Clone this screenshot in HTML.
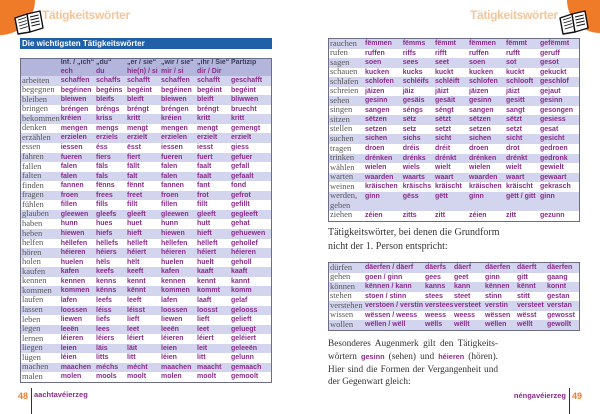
<!DOCTYPE html>
<html><head><meta charset="utf-8">
<style>
*{margin:0;padding:0}
html,body{width:600px;height:414px;overflow:hidden;background:#fff;position:relative}
.abs{position:absolute}
.title{position:absolute;font:bold 12px/14px "Liberation Sans",sans-serif;color:#f4c59a;letter-spacing:-0.3px;white-space:nowrap}
.bar{position:absolute;left:20px;top:38px;width:252px;height:11px;background:#2060a8;color:#fff;font:bold 8px/11px "Liberation Sans",sans-serif;padding-left:2px;box-sizing:border-box;white-space:nowrap}
.tb{position:absolute;border:1px solid #6c6c86;box-sizing:border-box;background:#fff;overflow:hidden}
.r{position:relative;height:9.57px}
.s{background:#d3d5ee}
.r i,.r b{position:absolute;top:0;white-space:nowrap}
.r i{font:8.5px/9.57px "Liberation Serif",serif;color:#555;left:1px;font-style:normal;top:-0.5px}
.r b{font:bold 7px/9.57px "Liberation Sans",sans-serif;color:#8b2b8b}
.R1 .r{height:9.56px}
.R1 .r i,.R1 .r b{line-height:9.56px}
.R2 .r{height:9.5px}
.R2 .r i,.R2 .r b{line-height:9.5px}
.L b:nth-of-type(1){left:39.7px}.L b:nth-of-type(2){left:75px}.L b:nth-of-type(3){left:106px}.L b:nth-of-type(4){left:140px}.L b:nth-of-type(5){left:176px}.L b:nth-of-type(6){left:210px}
.R1 b:nth-of-type(1){left:36px}.R1 b:nth-of-type(2){left:73.7px}.R1 b:nth-of-type(3){left:106px}.R1 b:nth-of-type(4){left:140px}.R1 b:nth-of-type(5){left:177px}.R1 b:nth-of-type(6){left:211px}
.R2 b:nth-of-type(1){left:36px}.R2 b:nth-of-type(2){left:96px}.R2 b:nth-of-type(3){left:125px}.R2 b:nth-of-type(4){left:156px}.R2 b:nth-of-type(5){left:188px}.R2 b:nth-of-type(6){left:218px}
.hd{position:relative;height:17px;background:#b3b5dc}
.hd .ln{position:absolute;left:0;right:0;height:9px}
.hd b{position:absolute;top:0;font:bold 7px/9px "Liberation Sans",sans-serif;white-space:nowrap}
.hd .l1{top:-1px}.hd .l1 b{color:#3b3d5c}
.hd .l2{top:7.5px}.hd .l2 b{color:#8b2b8b}
.para{position:absolute;font:10px "Liberation Serif",serif;color:#333;white-space:nowrap}
.p2{position:absolute;font:9.3px "Liberation Serif",serif;color:#333;width:170px;line-height:12.8px}
.jl{text-align:justify;text-align-last:justify;height:12.8px}
.pp{font:bold 7.3px "Liberation Sans",sans-serif;color:#8b2b8b}
.foot{position:absolute;font:bold 7.5px/10px "Liberation Sans",sans-serif;color:#8b2b8b;white-space:nowrap}
.pn{position:absolute;font:bold 9px/10px "Liberation Sans",sans-serif;color:#f07d2a}
</style></head><body>

<div class="abs" style="left:-35px;top:-35px;width:70px;height:70px;border-radius:50%;background:#ef7b28"></div>
<div class="abs" style="left:567px;top:-33px;width:66px;height:66px;border-radius:50%;background:#ef7b28"></div>

<svg class="abs" style="left:13px;top:9px" width="32" height="26" viewBox="0 0 32 26">
<g fill="#fff" stroke="#111" stroke-width="1.4" stroke-linejoin="round">
<path d="M2 9 L14 5 L17 23 L5 25 Z"/>
<path d="M14 5 L27 2 L30 19 L17 23 Z"/>
</g>
<g stroke="#111" stroke-width="0.9">
<line x1="5" y1="11" x2="13" y2="8.5"/><line x1="5.6" y1="14" x2="13.6" y2="11.5"/><line x1="6.2" y1="17" x2="14.2" y2="14.5"/><line x1="6.8" y1="20" x2="14.8" y2="17.5"/>
<line x1="17" y1="8" x2="25.5" y2="6"/><line x1="17.5" y1="11" x2="26" y2="9"/><line x1="18" y1="14" x2="26.5" y2="12"/><line x1="18.5" y1="17" x2="27" y2="15"/>
</g>
</svg>
<svg class="abs" style="left:558px;top:9px" width="32" height="26" viewBox="0 0 32 26">
<g fill="#fff" stroke="#111" stroke-width="1.4" stroke-linejoin="round">
<path d="M2 9 L14 5 L17 23 L5 25 Z"/>
<path d="M14 5 L27 2 L30 19 L17 23 Z"/>
</g>
<g stroke="#111" stroke-width="0.9">
<line x1="5" y1="11" x2="13" y2="8.5"/><line x1="5.6" y1="14" x2="13.6" y2="11.5"/><line x1="6.2" y1="17" x2="14.2" y2="14.5"/><line x1="6.8" y1="20" x2="14.8" y2="17.5"/>
<line x1="17" y1="8" x2="25.5" y2="6"/><line x1="17.5" y1="11" x2="26" y2="9"/><line x1="18" y1="14" x2="26.5" y2="12"/><line x1="18.5" y1="17" x2="27" y2="15"/>
</g>
</svg>

<div class="title" style="left:42px;top:8px">Tätigkeitswörter</div>
<div class="title" style="left:470px;top:8px">Tätigkeitswörter</div>

<div class="bar">Die wichtigsten Tätigkeitswörter</div>

<div class="tb L" style="left:20px;top:58px;width:252px;height:325px">
<div class="hd">
<div class="ln l1"><b style="left:39.7px">Inf. / „ich“</b><b style="left:75px">„du“</b><b style="left:106px">„er / sie“</b><b style="left:140px">„wir / sie“</b><b style="left:176px">„ihr / Sie“</b><b style="left:210px">Partizip</b></div>
<div class="ln l2"><b style="left:39.7px">ech</b><b style="left:75px">du</b><b style="left:106px">hie(n) / si</b><b style="left:140px">mir / si</b><b style="left:176px">dir / Dir</b></div>
</div>
<div class="r s"><i>arbeiten</i><b>schaffen</b><b>schaffs</b><b>schafft</b><b>schaffen</b><b>schafft</b><b>geschafft</b></div>
<div class="r"><i>begegnen</i><b>begéinen</b><b>begéins</b><b>begéint</b><b>begéinen</b><b>begéint</b><b>begéint</b></div>
<div class="r s"><i>bleiben</i><b>bleiwen</b><b>bleifs</b><b>bleift</b><b>bleiwen</b><b>bleift</b><b>bliwwen</b></div>
<div class="r"><i>bringen</i><b>bréngen</b><b>bréngs</b><b>bréngt</b><b>bréngen</b><b>bréngt</b><b>bruecht</b></div>
<div class="r s"><i>bekommen</i><b>kréien</b><b>kriss</b><b>kritt</b><b>kréien</b><b>kritt</b><b>kritt</b></div>
<div class="r"><i>denken</i><b>mengen</b><b>mengs</b><b>mengt</b><b>mengen</b><b>mengt</b><b>gemengt</b></div>
<div class="r s"><i>erzählen</i><b>erzielen</b><b>erziels</b><b>erzielt</b><b>erzielen</b><b>erzielt</b><b>erzielt</b></div>
<div class="r"><i>essen</i><b>iessen</b><b>éss</b><b>ësst</b><b>iessen</b><b>iesst</b><b>giess</b></div>
<div class="r s"><i>fahren</i><b>fueren</b><b>fiers</b><b>fiert</b><b>fueren</b><b>fuert</b><b>gefuer</b></div>
<div class="r"><i>fallen</i><b>falen</b><b>fäls</b><b>fällt</b><b>falen</b><b>faalt</b><b>gefall</b></div>
<div class="r s"><i>falten</i><b>falen</b><b>fals</b><b>falt</b><b>falen</b><b>faalt</b><b>gefaalt</b></div>
<div class="r"><i>finden</i><b>fannen</b><b>fënns</b><b>fënnt</b><b>fannen</b><b>fant</b><b>fond</b></div>
<div class="r s"><i>fragen</i><b>froen</b><b>frees</b><b>freet</b><b>froen</b><b>frot</b><b>gefrot</b></div>
<div class="r"><i>fühlen</i><b>fillen</b><b>fills</b><b>fillt</b><b>fillen</b><b>fillt</b><b>gefillt</b></div>
<div class="r s"><i>glauben</i><b>gleewen</b><b>gleefs</b><b>gleeft</b><b>gleewen</b><b>gleeft</b><b>gegleeft</b></div>
<div class="r"><i>haben</i><b>hunn</b><b>hues</b><b>huet</b><b>hunn</b><b>hutt</b><b>gehat</b></div>
<div class="r s"><i>heben</i><b>hiewen</b><b>hiefs</b><b>hieft</b><b>hiewen</b><b>hieft</b><b>gehuewen</b></div>
<div class="r"><i>helfen</i><b>hëllefen</b><b>hëllefs</b><b>hëlleft</b><b>hëllefen</b><b>hëlleft</b><b>gehollef</b></div>
<div class="r s"><i>hören</i><b>héieren</b><b>héiers</b><b>héiert</b><b>héieren</b><b>héiert</b><b>héieren</b></div>
<div class="r"><i>holen</i><b>huelen</b><b>hëls</b><b>hëlt</b><b>huelen</b><b>huelt</b><b>geholl</b></div>
<div class="r s"><i>kaufen</i><b>kafen</b><b>keefs</b><b>keeft</b><b>kafen</b><b>kaaft</b><b>kaaft</b></div>
<div class="r"><i>kennen</i><b>kennen</b><b>kenns</b><b>kennt</b><b>kennen</b><b>kennt</b><b>kannt</b></div>
<div class="r s"><i>kommen</i><b>kommen</b><b>kënns</b><b>kënnt</b><b>kommen</b><b>kommt</b><b>komm</b></div>
<div class="r"><i>laufen</i><b>lafen</b><b>leefs</b><b>leeft</b><b>lafen</b><b>laaft</b><b>gelaf</b></div>
<div class="r s"><i>lassen</i><b>loossen</b><b>léiss</b><b>léisst</b><b>loossen</b><b>loosst</b><b>gelooss</b></div>
<div class="r"><i>leben</i><b>liewen</b><b>liefs</b><b>lieft</b><b>liewen</b><b>lieft</b><b>gelieft</b></div>
<div class="r s"><i>legen</i><b>leeën</b><b>lees</b><b>leet</b><b>leeën</b><b>leet</b><b>geluegt</b></div>
<div class="r"><i>lernen</i><b>léieren</b><b>léiers</b><b>léiert</b><b>léieren</b><b>léiert</b><b>geléiert</b></div>
<div class="r s"><i>liegen</i><b>leien</b><b>läis</b><b>läit</b><b>leien</b><b>leit</b><b>geleeën</b></div>
<div class="r"><i>lügen</i><b>léien</b><b>litts</b><b>litt</b><b>léien</b><b>litt</b><b>gelunn</b></div>
<div class="r s"><i>machen</i><b>maachen</b><b>méchs</b><b>mécht</b><b>maachen</b><b>maacht</b><b>gemaach</b></div>
<div class="r"><i>malen</i><b>molen</b><b>mools</b><b>moolt</b><b>molen</b><b>moolt</b><b>gemoolt</b></div>
</div>

<div class="tb R1" style="left:328px;top:38px;width:252px;height:183.6px">
<div class="r s"><i>rauchen</i><b>fëmmen</b><b>fëmms</b><b>fëmmt</b><b>fëmmen</b><b>fëmmt</b><b>gefëmmt</b></div>
<div class="r"><i>rufen</i><b>ruffen</b><b>riffs</b><b>rifft</b><b>ruffen</b><b>rufft</b><b>geruff</b></div>
<div class="r s"><i>sagen</i><b>soen</b><b>sees</b><b>seet</b><b>soen</b><b>sot</b><b>gesot</b></div>
<div class="r"><i>schauen</i><b>kucken</b><b>kucks</b><b>kuckt</b><b>kucken</b><b>kuckt</b><b>gekuckt</b></div>
<div class="r s"><i>schlafen</i><b>schlofen</b><b>schléifs</b><b>schléift</b><b>schlofen</b><b>schlooft</b><b>geschlof</b></div>
<div class="r"><i>schreien</i><b>jäizen</b><b>jäiz</b><b>jäizt</b><b>jäizen</b><b>jäizt</b><b>gejaut</b></div>
<div class="r s"><i>sehen</i><b>gesinn</b><b>gesäis</b><b>gesäit</b><b>gesinn</b><b>gesitt</b><b>gesinn</b></div>
<div class="r"><i>singen</i><b>sangen</b><b>séngs</b><b>séngt</b><b>sangen</b><b>sangt</b><b>gesongen</b></div>
<div class="r s"><i>sitzen</i><b>sëtzen</b><b>sëtz</b><b>sëtzt</b><b>sëtzen</b><b>sëtzt</b><b>gesiess</b></div>
<div class="r"><i>stellen</i><b>setzen</b><b>setz</b><b>setzt</b><b>setzen</b><b>setzt</b><b>gesat</b></div>
<div class="r s"><i>suchen</i><b>sichen</b><b>sichs</b><b>sicht</b><b>sichen</b><b>sicht</b><b>gesicht</b></div>
<div class="r"><i>tragen</i><b>droen</b><b>dréis</b><b>dréit</b><b>droen</b><b>drot</b><b>gedroen</b></div>
<div class="r s"><i>trinken</i><b>drénken</b><b>drénks</b><b>drénkt</b><b>drénken</b><b>drénkt</b><b>gedronk</b></div>
<div class="r"><i>wählen</i><b>wielen</b><b>wiels</b><b>wielt</b><b>wielen</b><b>wielt</b><b>gewielt</b></div>
<div class="r s"><i>warten</i><b>waarden</b><b>waarts</b><b>waart</b><b>waarden</b><b>waart</b><b>gewaart</b></div>
<div class="r"><i>weinen</i><b>kräischen</b><b>kräischs</b><b>kräischt</b><b>kräischen</b><b>kräischt</b><b>gekrasch</b></div>
<div class="r s" style="height:19.12px"><i>werden,<br>geben</i><b>ginn</b><b>gëss</b><b>gëtt</b><b>ginn</b><b>gëtt / gitt</b><b>ginn</b></div>
<div class="r"><i>ziehen</i><b>zéien</b><b>zitts</b><b>zitt</b><b>zéien</b><b>zitt</b><b>gezunn</b></div>
</div>

<div class="para" style="left:328px;top:226px;line-height:14.4px">Tätigkeitswörter, bei denen die Grundform<br>nicht der 1. Person entspricht:</div>

<div class="tb R2" style="left:328px;top:262px;width:252px;height:68.5px">
<div class="r s"><i>dürfen</i><b>däerfen / däerf</b><b>däerfs</b><b>däerf</b><b>däerfen</b><b>däerft</b><b>däerfen</b></div>
<div class="r"><i>gehen</i><b>goen / ginn</b><b>gees</b><b>geet</b><b>ginn</b><b>gitt</b><b>gaang</b></div>
<div class="r s"><i>können</i><b>kënnen / kann</b><b>kanns</b><b>kann</b><b>kënnen</b><b>kënnt</b><b>konnt</b></div>
<div class="r"><i>stehen</i><b>stoen / stinn</b><b>stees</b><b>steet</b><b>stinn</b><b>stitt</b><b>gestan</b></div>
<div class="r s"><i>verstehen</i><b>verstoen / verstin</b><b>verstees</b><b>versteet</b><b>verstin</b><b>versteet</b><b>verstan</b></div>
<div class="r"><i>wissen</i><b>wëssen / weess</b><b>weess</b><b>weess</b><b>wëssen</b><b>wësst</b><b>gewosst</b></div>
<div class="r s"><i>wollen</i><b>wëllen / wëll</b><b>wëlls</b><b>wëllt</b><b>wëllen</b><b>wëllt</b><b>gewollt</b></div>
</div>

<div class="p2" style="left:328px;top:338px">
<div class="jl">Besonderes Augenmerk gilt den Tätigkeits-</div>
<div class="jl">wörtern <span class="pp">gesinn</span> (sehen) und <span class="pp">héieren</span> (hören).</div>
<div class="jl">Hier sind die Formen der Vergangenheit und</div>
<div style="white-space:nowrap;height:12.8px">der Gegenwart gleich:</div>
</div>

<div class="pn" style="left:18px;top:391px">48</div>
<div class="abs" style="left:31px;top:388px;width:1px;height:26px;background:#333"></div>
<div class="foot" style="left:34px;top:390px">aachtavéierzeg</div>

<div class="foot" style="right:34px;top:391px">néngavéierzeg</div>
<div class="abs" style="left:568.5px;top:388px;width:1px;height:26px;background:#333"></div>
<div class="pn" style="left:572px;top:391px">49</div>

</body></html>
